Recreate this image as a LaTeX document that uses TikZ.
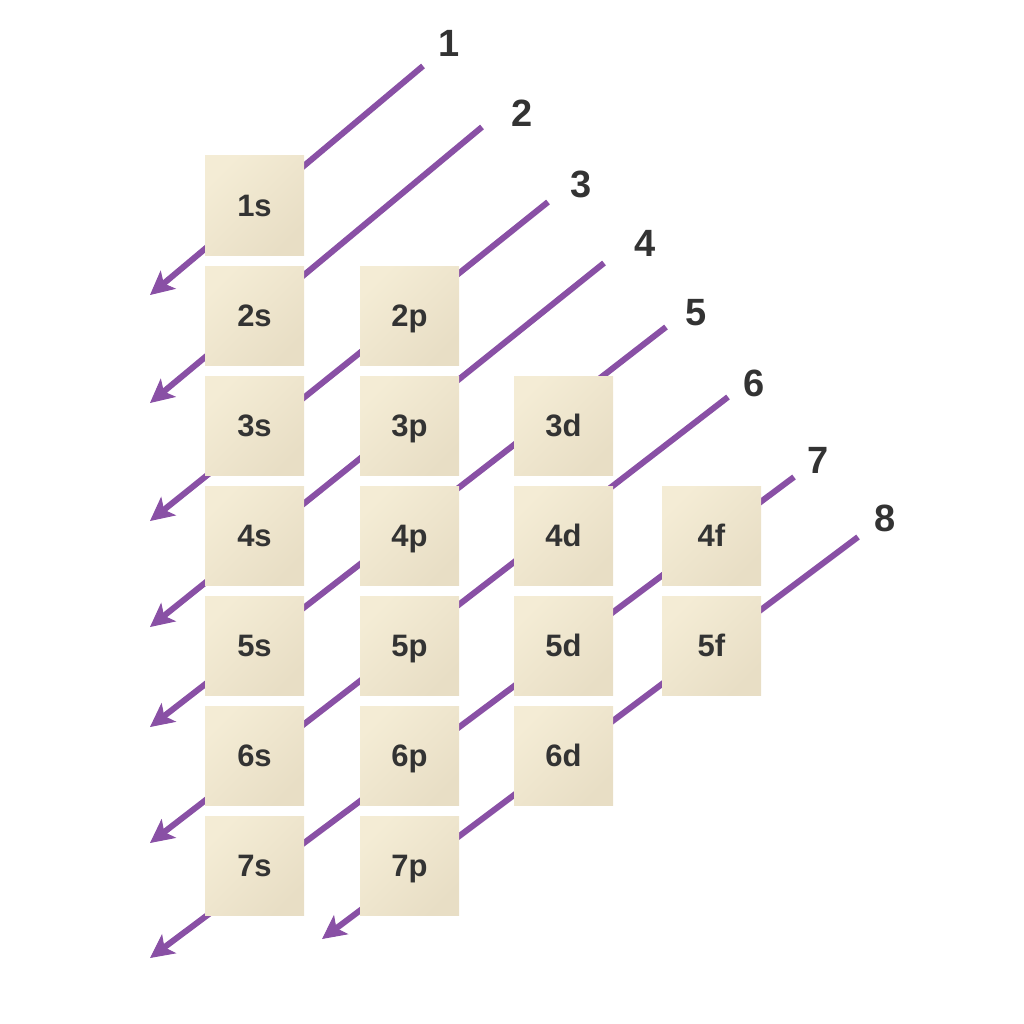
\documentclass[tikz,border=0pt]{standalone}
\usepackage{fontspec}
\setmainfont{Liberation Sans}
\usetikzlibrary{arrows.meta}
\definecolor{arrowpurple}{RGB}{137,80,165}
\definecolor{boxlight}{RGB}{244,236,213}
\definecolor{boxdark}{RGB}{232,222,197}
\definecolor{textgray}{RGB}{51,51,51}
\tikzset{
  orbital/.style={minimum width=99pt,minimum height=99pt,inner sep=0pt,
    shading=axis,left color=boxlight,right color=boxdark,shading angle=45,
    text=textgray,font=\fontsize{31}{31}\selectfont\bfseries,
    text height=22.5pt,text depth=0pt},
  diagarrow/.style={draw=arrowpurple,line width=6pt,
    -{Stealth[length=24pt,width=24pt,inset=6pt,line width=1pt]}},
  levelnum/.style={text=textgray,font=\fontsize{38}{38}\selectfont\bfseries,inner sep=0pt}
}
\begin{document}
\begin{tikzpicture}[x=1pt,y=-1pt]
\useasboundingbox (0,0) rectangle (1024,1024);
% arrow endpoints
\coordinate (a1) at (423,66);  \coordinate (b1) at (150,295);
\coordinate (a2) at (482,127); \coordinate (b2) at (150,403);
\coordinate (a3) at (548,202); \coordinate (b3) at (150,521);
\coordinate (a4) at (604,263); \coordinate (b4) at (150,627);
\coordinate (a5) at (666,327); \coordinate (b5) at (150,727);
\coordinate (a6) at (728,397); \coordinate (b6) at (150,843);
\coordinate (a7) at (794,477); \coordinate (b7) at (150,958);
\coordinate (a8) at (858,537); \coordinate (b8) at (322,939);
\foreach \i in {1,...,8} {\draw[diagarrow] (a\i) -- (b\i);}
% level numbers
\node[levelnum] (n1) at (449,43) {1};
\node[levelnum] (n2) at (522,113) {2};
\node[levelnum] (n3) at (581,184) {3};
\node[levelnum] (n4) at (645,243) {4};
\node[levelnum] (n5) at (696,313) {5};
\node[levelnum] (n6) at (754,383) {6};
\node[levelnum] (n7) at (818,460) {7};
\node[levelnum] (n8) at (885,518) {8};
% orbitals
\foreach \n/\y in {1/205.5,2/315.5,3/425.5,4/535.5,5/645.5,6/755.5,7/865.5}
  {\node[orbital] (o\n s) at (254.5,\y) {\n s};}
\foreach \n/\y in {2/315.5,3/425.5,4/535.5,5/645.5,6/755.5,7/865.5}
  {\node[orbital] (o\n p) at (409.5,\y) {\n p};}
\foreach \n/\y in {3/425.5,4/535.5,5/645.5,6/755.5}
  {\node[orbital] (o\n d) at (563.5,\y) {\n d};}
\foreach \n/\y in {4/535.5,5/645.5}
  {\node[orbital] (o\n f) at (711.5,\y) {\n f};}
\end{tikzpicture}
\end{document}
